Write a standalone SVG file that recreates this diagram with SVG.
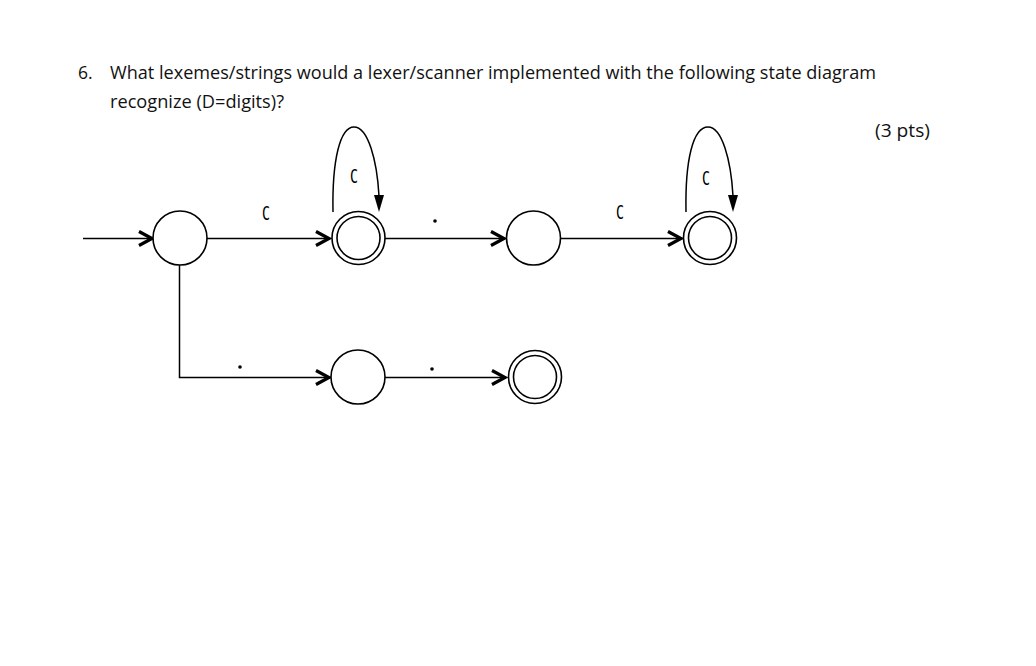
<svg xmlns="http://www.w3.org/2000/svg" width="1036" height="666" viewBox="0 0 1036 666">
<style>
.q{font-family:"Open Sans","Liberation Sans",sans-serif;font-size:17.5px;fill:#111}
.st{fill:#fff;stroke:#000;stroke-width:1.6}
.ln{fill:none;stroke:#000;stroke-width:1.5}
.ch{fill:none;stroke:#000;stroke-width:3.2;stroke-linejoin:miter;stroke-linecap:butt}
.lb{font-family:"DejaVu Sans Mono","Liberation Mono",monospace;font-size:19px;fill:#000}
.dot{fill:#000}
</style>
<rect width="1036" height="666" fill="#fff"/>
<g id="question">
<text class="q" x="78" y="79">6.</text>
<text class="q" x="110" y="79" textLength="766" lengthAdjust="spacingAndGlyphs">What lexemes/strings would a lexer/scanner implemented with the following state diagram</text>
<text class="q" x="110" y="108" textLength="174" lengthAdjust="spacingAndGlyphs">recognize (D=digits)?</text>
<text class="q" x="875" y="137" textLength="55" lengthAdjust="spacingAndGlyphs">(3 pts)</text>
</g>
<g id="connectors">
<path class="ln" d="M83,238.5 H152"/>
<path class="ch" d="M139,231.5 L152,238.5 L139,245.5"/>
<path class="ln" d="M207,238.5 H330"/>
<path class="ch" d="M316,231.5 L329,238.5 L316,245.5"/>
<path class="ln" d="M385,238.5 H505"/>
<path class="ch" d="M491,231.5 L504,238.5 L491,245.5"/>
<path class="ln" d="M560,238.5 H682"/>
<path class="ch" d="M668,231.5 L681,238.5 L668,245.5"/>
<path class="ln" d="M179.5,265 V377.5 H330"/>
<path class="ch" d="M316,370.5 L329,377.5 L316,384.5"/>
<path class="ln" d="M385,377.5 H506"/>
<path class="ch" d="M492,370.5 L505,377.5 L492,384.5"/>
<path class="ln" d="M333,212 C332,160 340,127 354,127 C368,127 377,160 379,196"/>
<polygon points="374,195 384,195 379,212"/>
<path class="ln" d="M686,212 C685,160 693,127 708,127 C722,127 731,160 733,196"/>
<polygon points="728,195 738,195 733,212"/>
</g>
<g id="labels">
<text class="lb" x="262" y="220" textLength="8" lengthAdjust="spacingAndGlyphs">C</text>
<text class="lb" x="350" y="183" textLength="8" lengthAdjust="spacingAndGlyphs">C</text>
<text class="lb" x="616" y="219" textLength="8" lengthAdjust="spacingAndGlyphs">C</text>
<text class="lb" x="702" y="185" textLength="8" lengthAdjust="spacingAndGlyphs">C</text>
<circle class="dot" cx="435" cy="221" r="1.8"/>
<circle class="dot" cx="240" cy="367" r="1.8"/>
<circle class="dot" cx="432" cy="369" r="1.8"/>
</g>
<g id="s0"><circle class="st" cx="180" cy="238" r="27"/></g>
<g id="s1"><circle class="st" cx="358.5" cy="238" r="26.5"/><circle class="st" cx="358.5" cy="238" r="21.5"/></g>
<g id="s2"><circle class="st" cx="533.5" cy="238" r="27"/></g>
<g id="s3"><circle class="st" cx="710" cy="238" r="26.5"/><circle class="st" cx="710" cy="238" r="21.5"/></g>
<g id="s4"><circle class="st" cx="358" cy="377" r="27"/></g>
<g id="s5"><circle class="st" cx="535" cy="377" r="26.5"/><circle class="st" cx="535" cy="377" r="21.5"/></g>
</svg>
